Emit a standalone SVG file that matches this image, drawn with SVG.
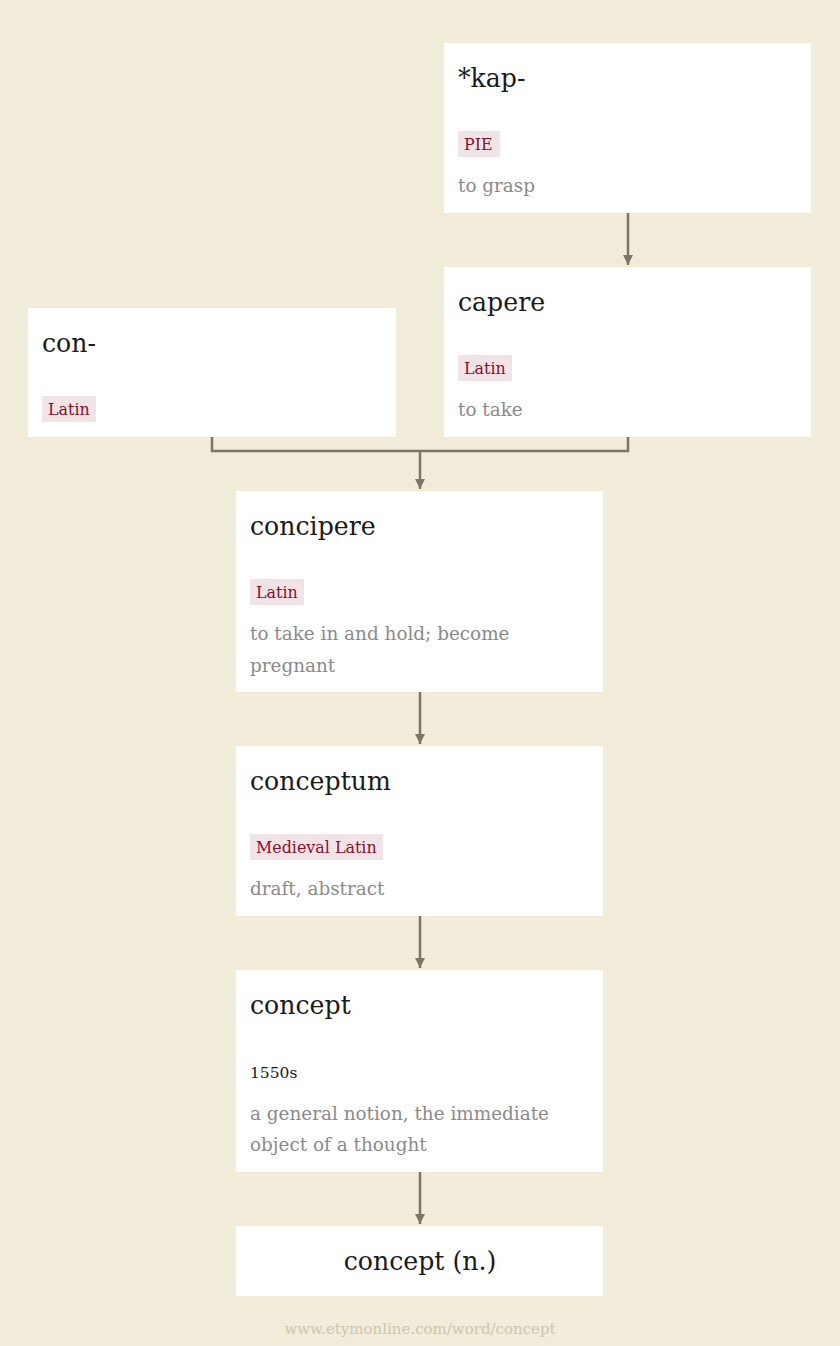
<svg xmlns="http://www.w3.org/2000/svg" width="840" height="1346" viewBox="0 0 840 1346">
<style>
.box{fill:#ffffff}
.title{font-family:"DejaVu Serif","Liberation Serif",serif;font-size:25.2px;fill:#1a1a1a}
.tag{fill:#f2e4e6}
.tagt{font-family:"DejaVu Serif","Liberation Serif",serif;font-size:15.9px;fill:#8a0f2e}
.desc{font-family:"DejaVu Serif","Liberation Serif",serif;font-size:18.4px;fill:#8a8a8a}
.date{font-family:"DejaVu Serif","Liberation Serif",serif;font-size:15.5px;fill:#1a1a1a}
.foot{font-family:"DejaVu Serif","Liberation Serif",serif;font-size:15px;fill:#cdc5ad}
.conn{fill:none;stroke:#7a7565;stroke-width:2.5}
</style>
<defs>
<marker id="ah" viewBox="0 0 10 10" refX="10" refY="5" markerWidth="4" markerHeight="4" markerUnits="strokeWidth" orient="auto">
<path d="M0,0 L10,5 L0,10 z" fill="#7a7565"/>
</marker>
</defs>
<rect x="0" y="0" width="840" height="1346" fill="#f2ecda"/>
<g id="connectors">
<path class="conn" d="M628,213 V265" marker-end="url(#ah)"/>
<path class="conn" d="M212,437 V451 H628 V437"/>
<path class="conn" d="M420,451 V489" marker-end="url(#ah)"/>
<path class="conn" d="M420,692 V744" marker-end="url(#ah)"/>
<path class="conn" d="M420,916 V968" marker-end="url(#ah)"/>
<path class="conn" d="M420,1172 V1224" marker-end="url(#ah)"/>
</g>
<g id="kap">
<rect class="box" x="444" y="43" width="367" height="170"/>
<text class="title" x="458" y="87">*kap-</text>
<rect class="tag" x="458" y="131" width="42" height="26"/>
<text class="tagt" x="464" y="150">PIE</text>
<text class="desc" x="458" y="192">to grasp</text>
</g>
<g id="capere">
<rect class="box" x="444" y="267" width="367" height="170"/>
<text class="title" x="458" y="311">capere</text>
<rect class="tag" x="458" y="355" width="54" height="26"/>
<text class="tagt" x="464" y="374">Latin</text>
<text class="desc" x="458" y="416">to take</text>
</g>
<g id="con">
<rect class="box" x="28" y="308" width="368" height="129"/>
<text class="title" x="42" y="352">con-</text>
<rect class="tag" x="42" y="396" width="54" height="26"/>
<text class="tagt" x="48" y="415">Latin</text>
</g>
<g id="concipere">
<rect class="box" x="236" y="491" width="367" height="201"/>
<text class="title" x="250" y="535">concipere</text>
<rect class="tag" x="250" y="579" width="54" height="26"/>
<text class="tagt" x="256" y="598">Latin</text>
<text class="desc" x="250" y="640">to take in and hold; become</text>
<text class="desc" x="250" y="672">pregnant</text>
</g>
<g id="conceptum">
<rect class="box" x="236" y="746" width="367" height="170"/>
<text class="title" x="250" y="790">conceptum</text>
<rect class="tag" x="250" y="834" width="133" height="26"/>
<text class="tagt" x="256" y="853">Medieval Latin</text>
<text class="desc" x="250" y="895">draft, abstract</text>
</g>
<g id="concept">
<rect class="box" x="236" y="970" width="367" height="202"/>
<text class="title" x="250" y="1014">concept</text>
<text class="date" x="250" y="1078">1550s</text>
<text class="desc" x="250" y="1120">a general notion, the immediate</text>
<text class="desc" x="250" y="1151">object of a thought</text>
</g>
<g id="concept-n">
<rect class="box" x="236" y="1226" width="367" height="70"/>
<text class="title" x="420" y="1270" text-anchor="middle">concept (n.)</text>
</g>
<text class="foot" x="420" y="1334" text-anchor="middle">www.etymonline.com/word/concept</text>
</svg>
